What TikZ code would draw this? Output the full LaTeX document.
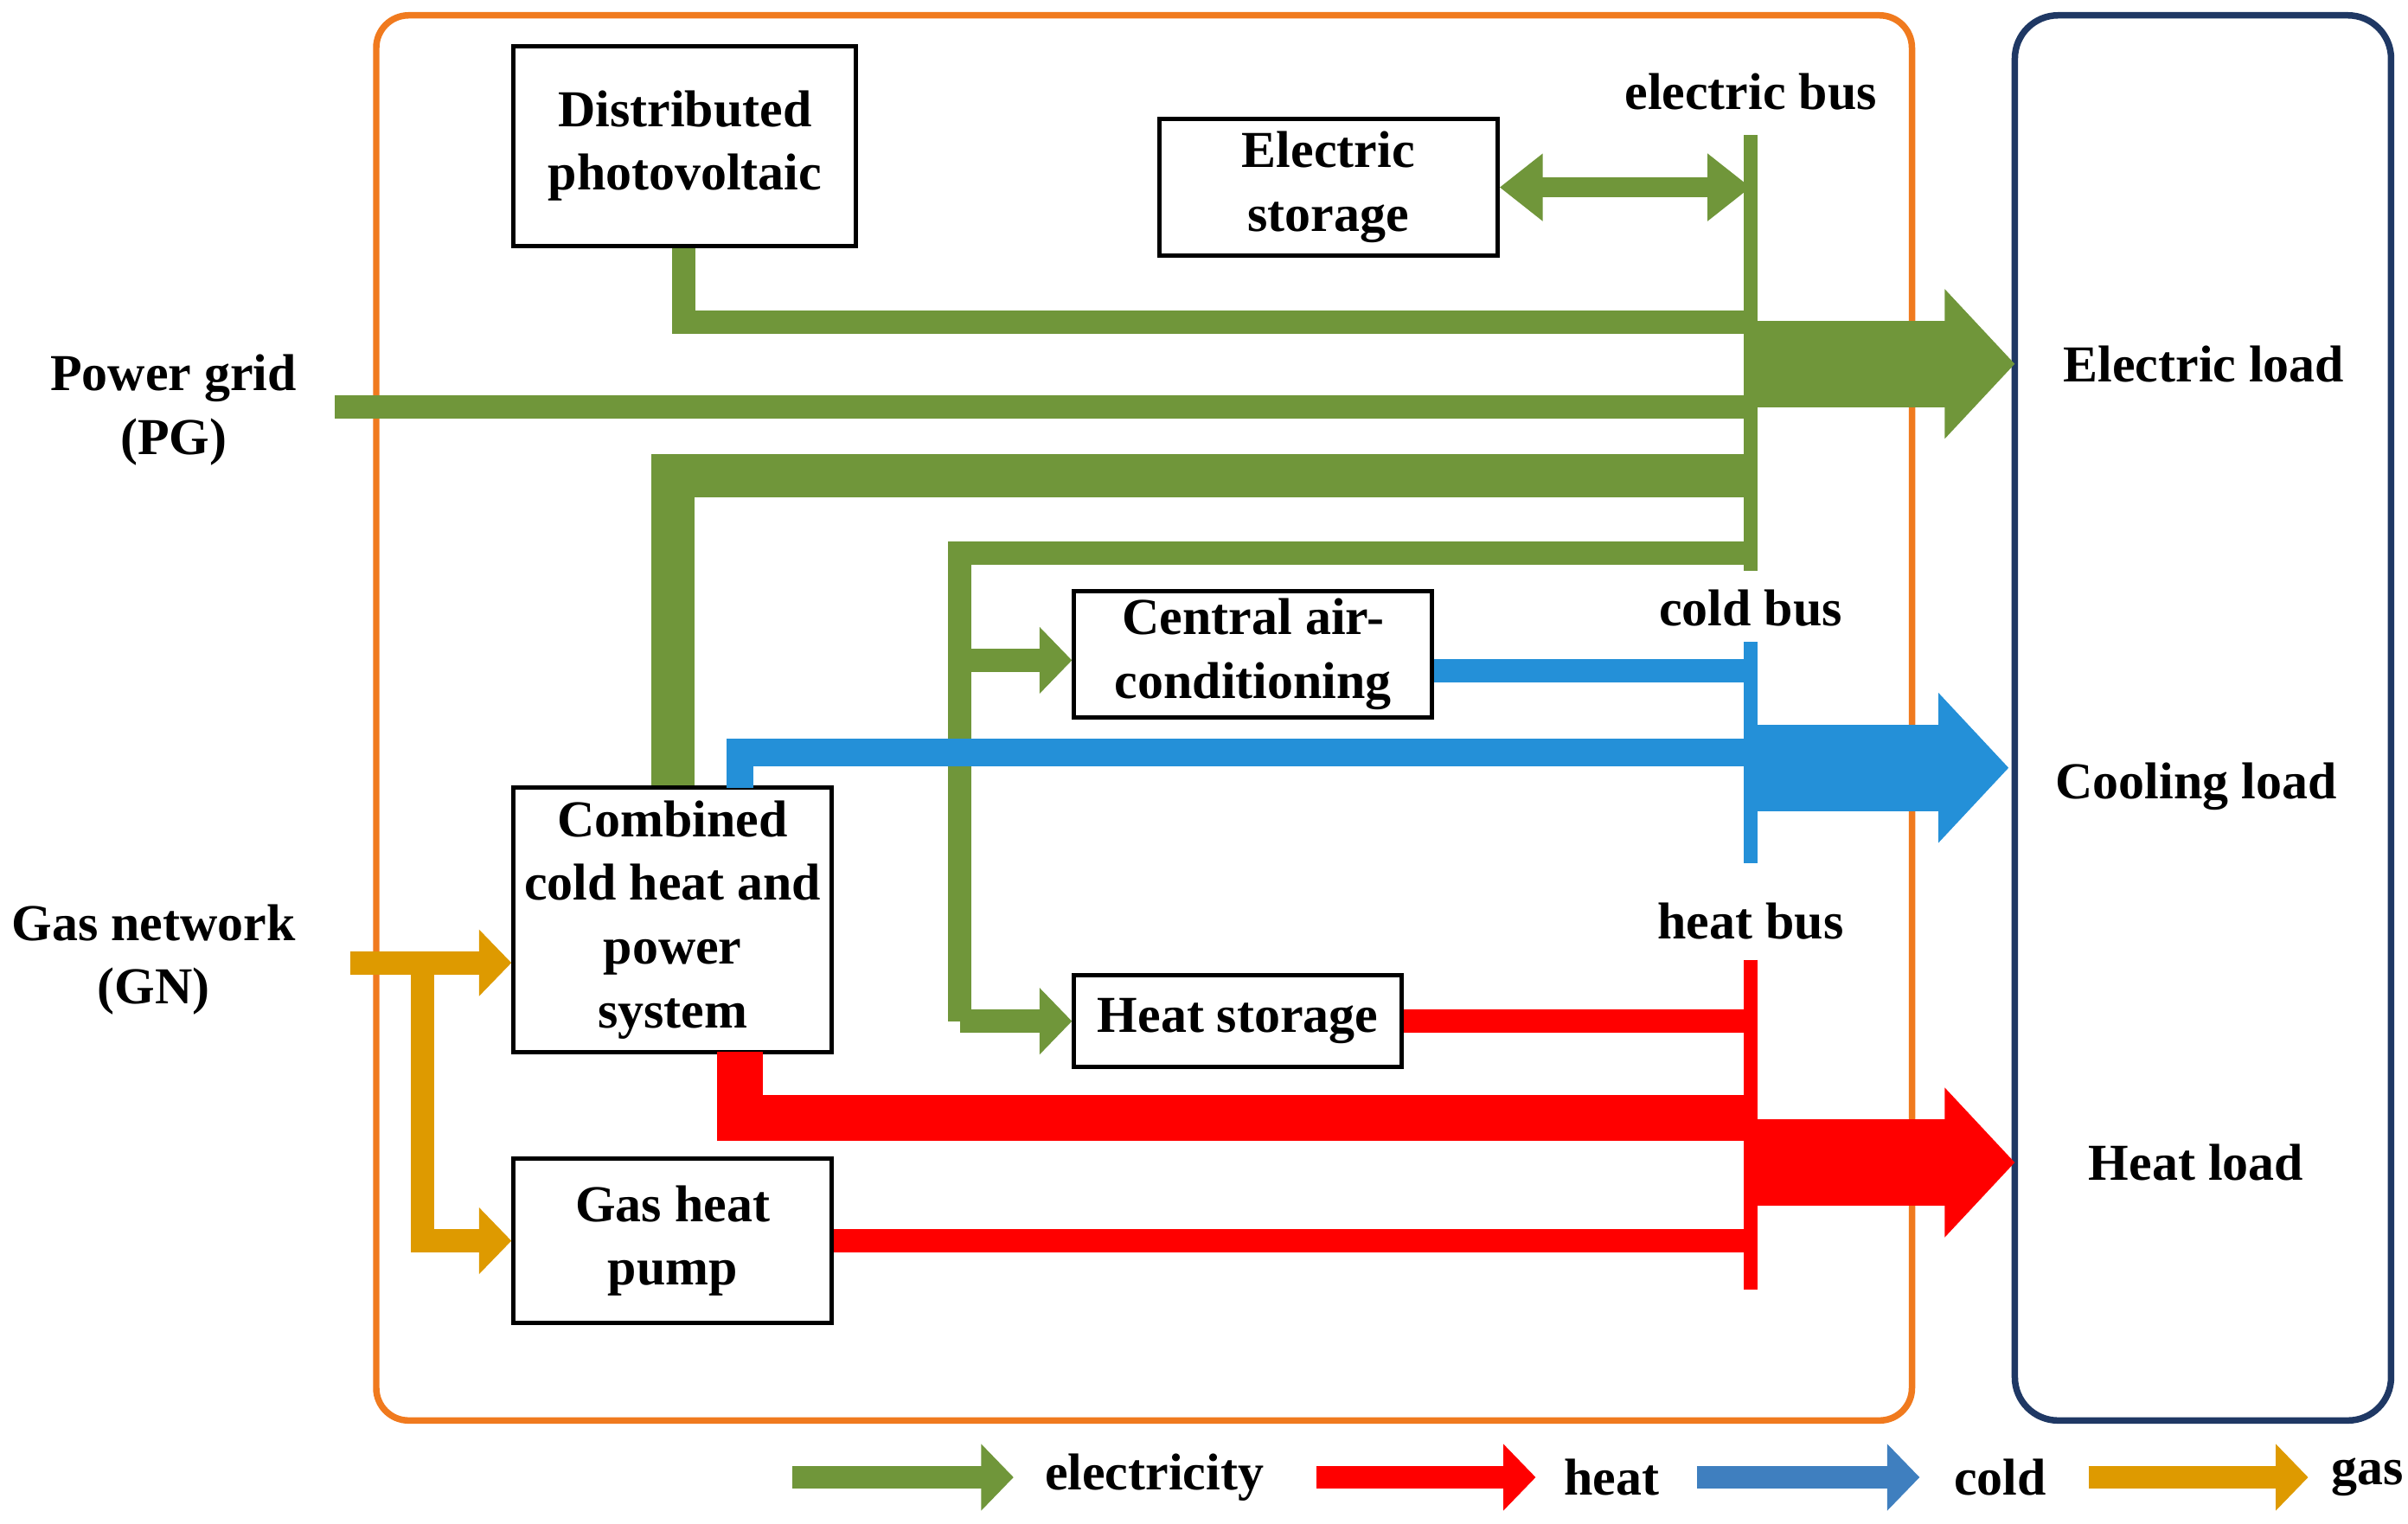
\documentclass[tikz,border=0pt]{standalone}
\usepackage{fontspec}
\setmainfont{Liberation Serif}
\usetikzlibrary{arrows.meta}
\definecolor{elec}{RGB}{112,150,58}
\definecolor{coldc}{RGB}{36,144,216}
\definecolor{heatc}{RGB}{255,0,0}
\definecolor{gasc}{RGB}{222,154,0}
\definecolor{legcold}{RGB}{63,127,191}
\definecolor{frameo}{RGB}{240,122,30}
\definecolor{navy}{RGB}{31,56,100}
\tikzset{
  unit/.style={draw=black,thick,fill=white,align=center,font=\bfseries\fontsize{9.6}{11.8}\selectfont,inner sep=1pt},
  lbl/.style={align=center,font=\bfseries\fontsize{9.6}{11.8}\selectfont},
  flow/.style={line width=4.3pt},
  tip/.style={-{Triangle[length=6pt,width=12pt]}},
  big/.style={line width=16pt,-{Triangle[length=13pt,width=27pt]}},
}
\begin{document}
\begin{tikzpicture}[x=0.01cm,y=-0.01cm]
\useasboundingbox (0,0) rectangle (1568,992);
% frames
\draw[frameo,line width=1.2pt,rounded corners=6pt] (245,10) rectangle (1245,925);
\draw[navy,line width=1.2pt,rounded corners=8pt] (1312,10) rectangle (1557,925);
% units
\node[unit,minimum width=2.23cm,minimum height=1.3cm] (pv) at (446,95) {Distributed\\photovoltaic};
\node[unit,minimum width=2.2cm,minimum height=0.89cm] (es) at (865,122) {Electric\\storage};
\node[unit,minimum width=2.33cm,minimum height=0.82cm] (ac) at (816,426) {Central air-\\conditioning};
\node[unit,minimum width=2.07cm,minimum height=1.72cm] (cchp) at (438,599) {Combined\\cold heat and\\power\\system};
\node[unit,minimum width=2.13cm,minimum height=0.6cm] (hs) at (806,665) {Heat storage};
\node[unit,minimum width=2.07cm,minimum height=1.07cm] (ghp) at (438,808) {Gas heat\\pump};
% labels
\node[lbl] (pg) at (113,267) {Power grid\\(PG)};
\node[lbl] (gn) at (100,625) {Gas network\\(GN)};
\node[lbl] at (1140,60) {electric bus};
\node[lbl] at (1140,396) {cold bus};
\node[lbl] at (1140,600) {heat bus};
\node[lbl] (el) at (1435,237) {Electric load};
\node[lbl] (cl) at (1430,512) {Cooling load};
\node[lbl] (hl) at (1430,757) {Heat load};
% buses
\coordinate (eb1) at (1140,88); \coordinate (eb2) at (1140,372);
\coordinate (cb1) at (1140,418); \coordinate (cb2) at (1140,562);
\coordinate (hb1) at (1140,625); \coordinate (hb2) at (1140,840);
\draw[elec,line width=2.5pt] (eb1) -- (eb2);
\draw[coldc,line width=2.5pt] (cb1) -- (cb2);
\draw[heatc,line width=2.5pt] (hb1) -- (hb2);
% electricity
\draw[elec,line width=3.6pt,{Triangle[length=8pt,width=12pt]}-{Triangle[length=8pt,width=12pt]}] (es.east) -- (es.east -| eb1);
\draw[elec,flow] (pv.south -| 445,0) |- (1140,210);
\draw[elec,flow] (218,265) -- (1140,265);
\draw[elec,line width=8pt] (cchp.north) |- (1140,310);
\draw[elec,flow] (1140,360) -| (625,665);
\draw[elec,flow,tip] (625,665) -- (hs.west);
\draw[elec,flow,tip] (625,430) -- (ac.west |- 625,430);
\draw[elec,big] (1140,237) -- (1312,237);
% cold
\draw[coldc,flow] (ac.east |- 0,437) -- (1140,437);
\draw[coldc,line width=5pt] (482,513) |- (1140,490);
\draw[coldc,big] (1140,500) -- (1308,500);
% heat
\draw[heatc,flow] (hs.east) -- (1140,665);
\draw[heatc,line width=8.5pt] (482,685) |- (1140,728);
\draw[heatc,flow] (ghp.east) -- (1140,808);
\draw[heatc,big] (1140,757) -- (1312,757);
% gas
\draw[gasc,flow,tip] (228,627) -- (cchp.west |- 0,627);
\draw[gasc,flow] (275,627) |- (300,808);
\draw[gasc,flow,tip] (275,808) -- (ghp.west |- 0,808);
% legend
\draw[elec,flow,tip] (516,962) -- (660,962);
\node[lbl,anchor=west] at (668,962) {electricity};
\draw[heatc,flow,tip] (857,962) -- (1000,962);
\node[lbl,anchor=west] at (1006,962) {heat};
\draw[legcold,flow,tip] (1105,962) -- (1250,962);
\node[lbl,anchor=west] at (1260,962) {cold};
\draw[gasc,flow,tip] (1360,962) -- (1503,962);
\node[lbl,anchor=west] at (1506,962) {gas};
\end{tikzpicture}
\end{document}
